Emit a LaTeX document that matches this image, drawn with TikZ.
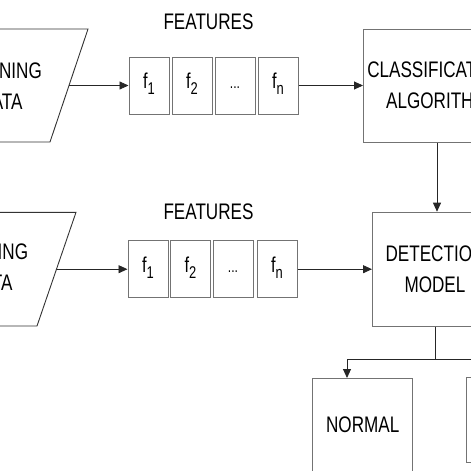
\documentclass[tikz,border=0pt]{standalone}
\usepackage{fontspec}
\setmainfont{Liberation Sans}[FakeStretch=0.76]
\usetikzlibrary{arrows.meta}

\newcommand{\fsub}[1]{f\raisebox{-6pt}{\fontsize{17}{17}\selectfont #1}}
\newcommand{\fdots}{{\fontsize{16}{16}\selectfont ...}}

\tikzset{
	lbl/.style={font=\fontsize{22.5}{31}\selectfont, align=center, inner sep=0pt},
	feat/.style={draw=black!55, line width=1pt, minimum width=40pt, minimum height=57pt,
		inner sep=0pt, text height=14.6pt, text depth=8.6pt, font=\fontsize{21.5}{21.5}\selectfont},
	block/.style={draw=black!55, line width=1pt, inner sep=0pt, align=center,
		font=\fontsize{22.5}{31}\selectfont},
	arr/.style={draw=black!85, line width=0.9pt, -{Triangle[length=9pt,width=8pt]}}
}

\begin{document}
\begin{tikzpicture}[x=1pt,y=-1pt]

	\useasboundingbox (0,0) rectangle (471,471);
	\clip (0,0) rectangle (471,471);

	% training data
	\draw [line width=0.9pt, black!80] (-140,29) -- (88,29) -- (50,142) -- (-178,142) -- cycle;
	\node [lbl] (train) at (1,86) {TRAINING\\DATA};
	\coordinate (trainout) at (69,85.5);

	% testing data
	\draw [line width=0.9pt, black!80] (-150,212.3) -- (76,212.3) -- (37,326) -- (-189,326) -- cycle;
	\node [lbl] (test) at (-9,267.4) {TESTING\\DATA};
	\coordinate (testout) at (56.5,269.2);

	\node [lbl] (ftop) at (208.5,21.7) {FEATURES};
	\node [lbl] (fbot) at (208.5,211.5) {FEATURES};

	% feature boxes
	\foreach \x/\t [count=\i] in {149/\fsub{1}, 192/\fsub{2}, 235/\fdots, 278/\fsub{n}}
		\node [feat] (f\i) at (\x,85.5) {\t};
	\foreach \x/\t [count=\i] in {148/\fsub{1}, 190.5/\fsub{2}, 233/\fdots, 277/\fsub{n}}
		\node [feat] (g\i) at (\x,269.2) {\t};

	\node [block, minimum width=147pt, minimum height=113pt] (cls) at (437,85.5) {CLASSIFICATION\\ALGORITHM};
	\node [block, minimum width=125pt, minimum height=114pt] (det) at (435,269.2) {DETECTION\\MODEL};
	\node [block, minimum width=100pt, minimum height=94pt] (normal) at (362.7,425) {NORMAL};
	\node [block, minimum width=100pt, minimum height=85.3pt] (other) at (516.7,420.3) {};

	\draw [arr] (trainout) -- (f1.west);
	\draw [arr] (f4.east) -- (cls.west);
	\draw [arr] (cls.south) -- (cls.south |- det.north);
	\draw [arr] (testout) -- (g1.west);
	\draw [arr] (g4.east) -- (det.west);

	\coordinate (nin) at (347,378);
	\coordinate (oin) at (523,377.7);
	\draw [draw=black!85, line width=0.9pt] (det.south) -- ++(0,32.7) coordinate (split);
	\draw [arr] (split) -| (nin);
	\draw [arr] (split) -| (oin);

\end{tikzpicture}
\end{document}
